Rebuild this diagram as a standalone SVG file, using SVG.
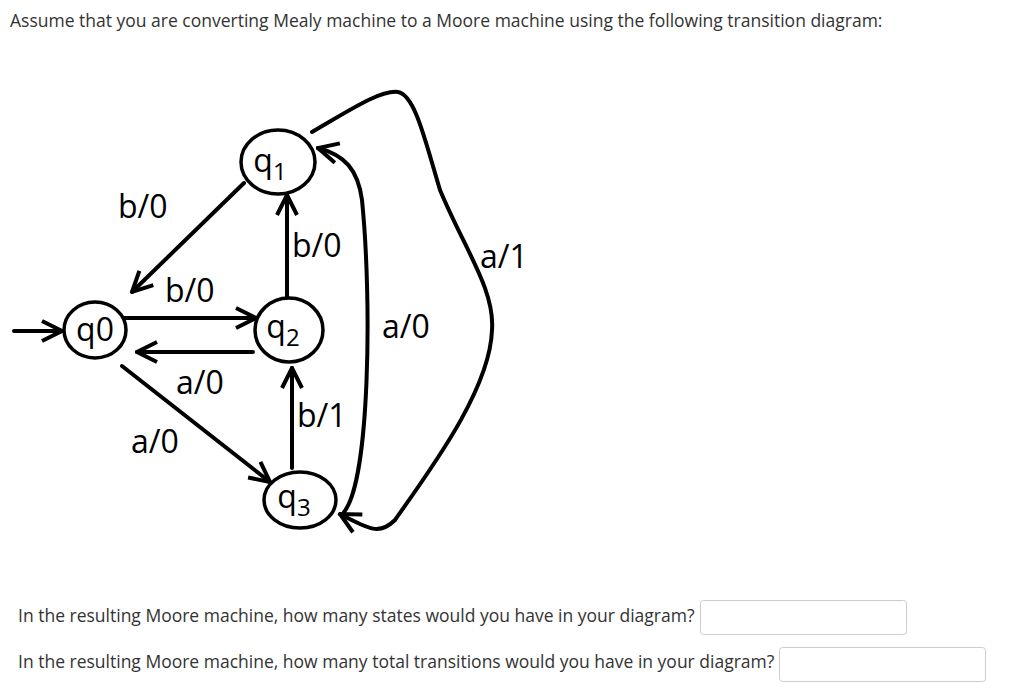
<svg xmlns="http://www.w3.org/2000/svg" width="1024" height="694" viewBox="0 0 1024 694">
<style>
.t{font-family:"Open Sans",sans-serif;font-size:17.5px;fill:#333}
.n{fill:#fff;stroke:#000;stroke-width:3.5}
.l{font-family:"Open Sans","Liberation Sans",sans-serif;font-size:32px;fill:#000}
.e{fill:none;stroke:#000;stroke-width:4;stroke-linecap:round;stroke-linejoin:round}
.box{fill:#fff;stroke:#ccc;stroke-width:1}
</style>
<defs><marker id="a" viewBox="0 0 12 12" refX="11" refY="6" markerWidth="6" markerHeight="6" orient="auto" markerUnits="strokeWidth"><path d="M1,1 L11,6 L1,11" fill="none" stroke="#000" stroke-width="2"/></marker></defs>
<rect width="1024" height="694" fill="#fff"/>
<text class="t" x="10" y="27">Assume that you are converting Mealy machine to a Moore machine using the following transition diagram:</text>
<g id="connectors" class="e">
<path class="e" d="M14,331 L62,331" marker-end="url(#a)"/>
<path class="e" d="M244,183 L132,292" marker-end="url(#a)"/>
<path class="e" d="M124,318 L256,318" marker-end="url(#a)"/>
<path class="e" d="M253,352 L137,352" marker-end="url(#a)"/>
<path class="e" d="M122,366 L270,482" marker-end="url(#a)"/>
<path class="e" d="M287,297 L287,195" marker-end="url(#a)"/>
<path class="e" d="M292,468 L292,368" marker-end="url(#a)"/>
<path class="e" d="M344,512 C370,480 372,300 362,200 C358,170 345,155 318,148" marker-end="url(#a)"/>
<path class="e" d="M312,132 C350,110 380,90 398,92 C415,95 425,140 440,190 C465,250 495,290 492,330 C490,390 430,470 395,520 C380,535 370,530 340,514" marker-end="url(#a)"/>
</g>
<g id="q0"><ellipse class="n" cx="95" cy="330" rx="31" ry="28"/><text class="l" x="95" y="341" text-anchor="middle">q0</text></g>
<g id="q1"><ellipse class="n" cx="278" cy="162" rx="37" ry="32"/><text class="l" x="270" y="172" text-anchor="middle">q<tspan font-size="24" dy="8">1</tspan></text></g>
<g id="q2"><ellipse class="n" cx="289" cy="330" rx="34" ry="32"/><text class="l" x="283" y="338" text-anchor="middle">q<tspan font-size="24" dy="8">2</tspan></text></g>
<g id="q3"><ellipse class="n" cx="300" cy="500" rx="36" ry="28"/><text class="l" x="294" y="508" text-anchor="middle">q<tspan font-size="24" dy="8">3</tspan></text></g>
<g id="labels">
<text class="l" x="118" y="218">b/0</text>
<text class="l" x="165" y="302">b/0</text>
<text class="l" x="176" y="394">a/0</text>
<text class="l" x="131" y="453">a/0</text>
<text class="l" x="292" y="257">b/0</text>
<text class="l" x="297" y="427">b/1</text>
<text class="l" x="382" y="338">a/0</text>
<text class="l" x="480" y="268">a/1</text>
</g>
<text class="t" x="18" y="622">In the resulting Moore machine, how many states would you have in your diagram?</text>
<rect class="box" x="700.5" y="600.5" width="206" height="34" rx="3"/>
<text class="t" x="18" y="668">In the resulting Moore machine, how many total transitions would you have in your diagram?</text>
<rect class="box" x="779.5" y="647.5" width="206" height="34" rx="3"/>
</svg>
